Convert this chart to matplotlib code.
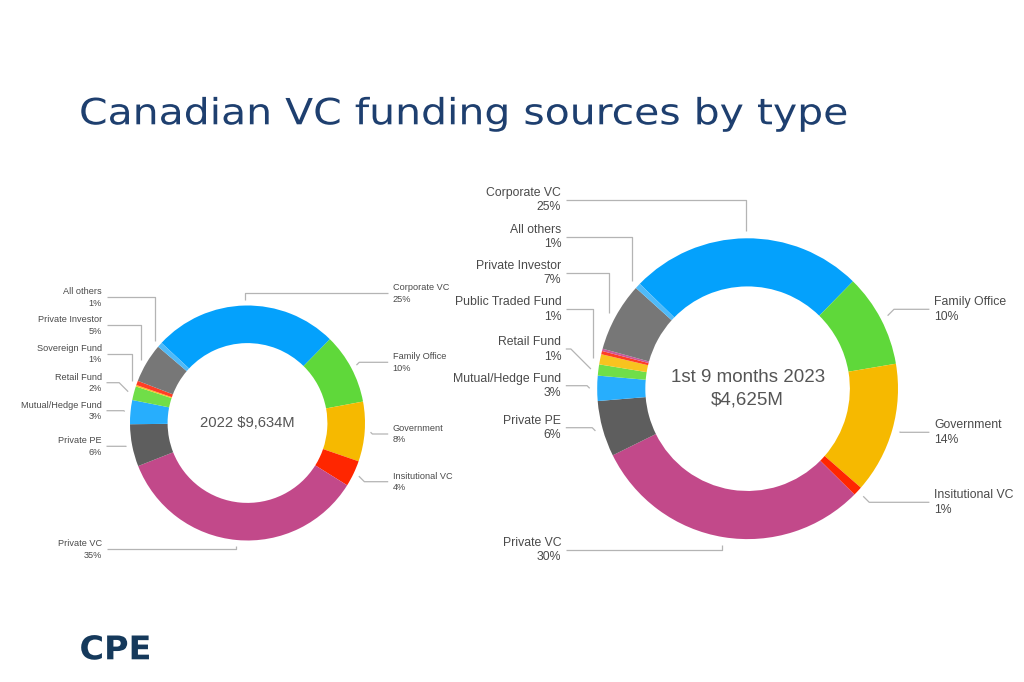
import numpy as np
import matplotlib
matplotlib.use("Agg")
import matplotlib.pyplot as plt
from matplotlib.patheffects import AbstractPathEffect
from matplotlib.transforms import Affine2D

# ---------------- data ----------------
categories = ["Corporate VC", "Family Office", "Government", "Insitutional VC",
              "Private VC", "Private PE", "Mutual/Hedge Fund", "Retail Fund",
              "Public Traded Fund", "Sovereign Fund", "Other", "Private Investor",
              "All others"]
colors = ["#04a1fc", "#5fd83a", "#f6b900", "#ff2600", "#c2498a", "#5e5e5e",
          "#27aefd", "#70de48", "#f8c31f", "#ff3d25", "#c9589b", "#777777",
          "#4fbaf8"]

values_2022 = [25.4, 9.7, 8.2, 3.6, 35.1, 5.8, 3.3, 1.9, 0.2, 0.6, 0.0, 5.4, 0.7]
values_2023 = [25.1, 10.0, 14.1, 1.0, 30.3, 6.0, 2.7, 1.2, 1.1, 0.35, 0.25, 7.4, 0.6]

center_2022 = "2022 $9,634M"
center_2023 = "1st 9 months 2023\n$4,625M"
title = "Canadian VC funding sources by type"
logo = "CPE"

# labels shown: (category, side, leader y px, elbow style)
labels_2022 = [("All others", "L", 297.3, "v"), ("Private Investor", "L", 325, "v"),
               ("Sovereign Fund", "L", 354, "v"), ("Retail Fund", "L", 382.7, "d"),
               ("Mutual/Hedge Fund", "L", 410.7, "d"), ("Private PE", "L", 446.3, "d"),
               ("Private VC", "L", 549.3, "v"), ("Corporate VC", "R", 293.3, "v"),
               ("Family Office", "R", 362.3, "d"), ("Government", "R", 434, "d"),
               ("Insitutional VC", "R", 481.7, "d")]
labels_2023 = [("Corporate VC", "L", 200, "v"), ("All others", "L", 236.7, "v"),
               ("Private Investor", "L", 272.7, "v"), ("Public Traded Fund", "L", 309.3, "v"),
               ("Retail Fund", "L", 349, "d"), ("Mutual/Hedge Fund", "L", 385.7, "d"),
               ("Private PE", "L", 427.7, "d"), ("Private VC", "L", 550, "v"),
               ("Family Office", "R", 309.3, "d"), ("Government", "R", 432.3, "d"),
               ("Insitutional VC", "R", 502.3, "d")]

W, H = 1024, 682
FONT = ["Liberation Sans", "DejaVu Sans"]
LINE = "#b4b4b4"
TXT = "#4a4a4a"


class HStretch(AbstractPathEffect):
    """Stretch rendered text horizontally around a given display x."""

    def __init__(self, sx, x0):
        super().__init__()
        self.sx, self.x0 = sx, x0

    def draw_path(self, renderer, gc, tpath, affine, rgbFace=None):
        aff = affine + Affine2D().translate(-self.x0, 0).scale(self.sx, 1).translate(self.x0, 0)
        renderer.draw_path(gc, tpath, aff, rgbFace)


fig = plt.figure(figsize=(W / 100, H / 100), dpi=100)
fig.patch.set_facecolor("white")
over = fig.add_axes([0, 0, 1, 1])
over.set_xlim(0, W)
over.set_ylim(H, 0)
over.axis("off")


def donut(values, cx, cy, r, start, center_text, center_fs, labels,
          lx_left, lx_right, fs, dy_name, dy_pct):
    ax = fig.add_axes([(cx - r) / W, (H - (cy + r)) / H, 2 * r / W, 2 * r / H])
    wedges, _ = ax.pie(values, colors=colors, startangle=start, counterclock=False,
                       radius=1.0, wedgeprops=dict(width=0.32, linewidth=0))
    ax.set_xlim(-1, 1)
    ax.set_ylim(-1, 1)
    ax.axis("off")
    ax.text(0, 0, center_text, ha="center", va="center", fontsize=center_fs,
            color="#555555", family=FONT, linespacing=1.45)
    total = float(sum(values))
    for name, side, ly, style in labels:
        i = categories.index(name)
        w = wedges[i]
        a = np.deg2rad((w.theta1 + w.theta2) / 2)
        ax_x = cx + 1.05 * r * np.cos(a)
        ax_y = cy - 1.05 * r * np.sin(a)
        pct = values[i] / total * 100
        ptxt = f"{int(np.floor(pct + 0.5))}%"
        if side == "L":
            x0 = lx_left + 4.5
            sgn = 1
            tx, ha = lx_left, "right"
        else:
            x0 = lx_right - 4.5
            sgn = -1
            tx, ha = lx_right, "left"
        if style == "v":
            xs = [x0, ax_x, ax_x]
            ys = [ly, ly, ax_y]
        else:
            d = abs(ax_y - ly)
            xs = [x0, ax_x - sgn * d, ax_x]
            ys = [ly, ly, ax_y]
        over.plot(xs, ys, color=LINE, lw=0.9, solid_capstyle="butt")
        over.text(tx, ly - dy_name, name, ha=ha, va="center", fontsize=fs,
                  color=TXT, family=FONT)
        over.text(tx, ly + dy_pct, ptxt, ha=ha, va="center", fontsize=fs,
                  color=TXT, family=FONT)


donut(values_2022, 247.5, 423, 117.5, 137, center_2022, 10.6, labels_2022,
      102, 392.7, 6.6, 5.5, 6.0)
donut(values_2023, 747.6, 388.7, 150.4, 135.8, center_2023, 13.5, labels_2023,
      561.3, 933.9, 8.8, 7.0, 7.5)

t_title = over.text(79, 124.3, title, ha="left", va="baseline", fontsize=26,
                    color="#1e3f6f", family=["DejaVu Sans"])
t_logo = over.text(79.5, 659.3, logo, ha="left", va="baseline", fontsize=23.5,
                   color="#15395b", family=["DejaVu Sans"], fontweight="bold")

fig.canvas.draw()
r = fig.canvas.get_renderer()
for t, target, x0 in [(t_title, 769.0, 79.0), (t_logo, 72.0, 79.5)]:
    bb = t.get_window_extent(renderer=r)
    t.set_path_effects([HStretch(target / bb.width, bb.x0)])

fig.savefig("out.png", dpi=100, facecolor="white")
